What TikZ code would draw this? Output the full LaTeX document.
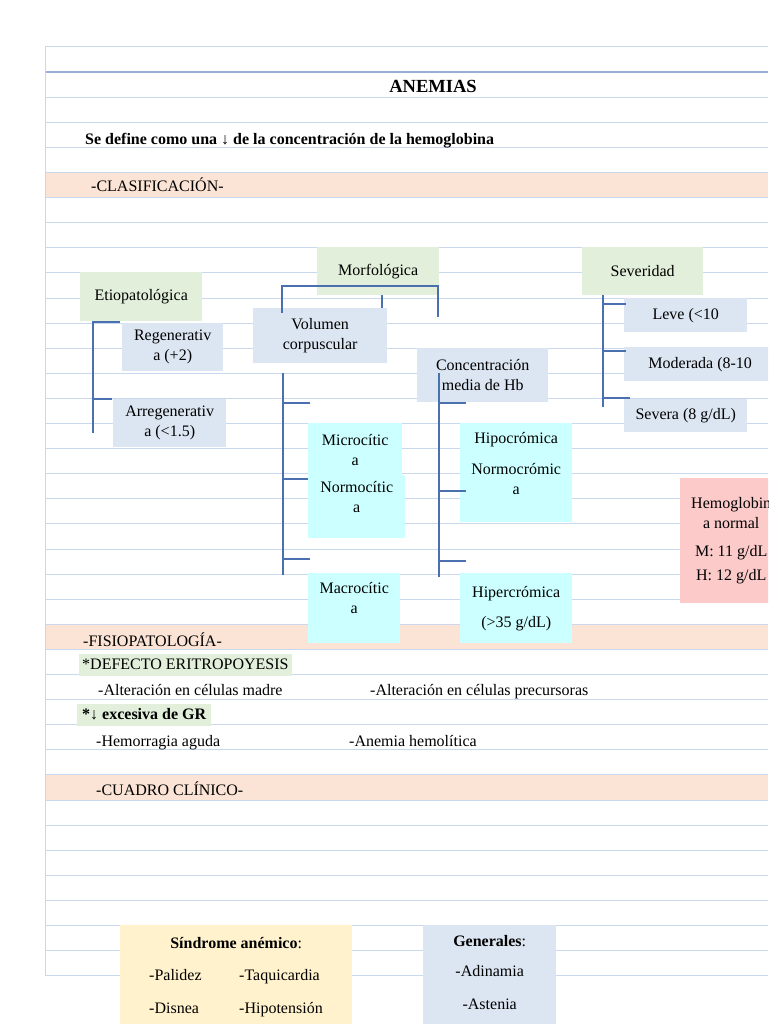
\documentclass[tikz,border=0pt]{standalone}
\usepackage{fontspec}
\setmainfont{Liberation Serif}
\usetikzlibrary{positioning}
\definecolor{rulec}{HTML}{C9D8EC}
\definecolor{rulebc}{HTML}{95B0D4}
\definecolor{bandc}{HTML}{FBE4D5}
\definecolor{grnc}{HTML}{E2EFDA}
\definecolor{bluc}{HTML}{DCE6F2}
\definecolor{cyac}{HTML}{CCFFFF}
\definecolor{hemc}{HTML}{FDCACA}
\definecolor{yelc}{HTML}{FFF2CC}
\definecolor{linkc}{HTML}{4A70B0}
\newcommand{\bodyfs}{\fontsize{16}{20}\selectfont}
\tikzset{
  box/.style 2 args={anchor=north west, inner sep=0pt, align=center, font=\bodyfs,
                     minimum width=#1, minimum height=#2},
  grn/.style={fill=grnc},
  blu/.style={fill=bluc},
  cya/.style={fill=cyac},
  txt/.style={anchor=base west, inner sep=0pt, font=\bodyfs},
  hl/.style={fill=grnc, anchor=west, inner xsep=3pt, inner ysep=0pt, minimum height=22, font=\bodyfs},
  rule/.style={draw=rulec, line width=1pt},
  con/.style={draw=linkc, line width=1.3pt},
}
\begin{document}
\begin{tikzpicture}[x=1pt, y=-1pt]
\useasboundingbox (0,0) rectangle (768,1024);
\clip (0,0) rectangle (768,1024);
\fill[white] (0,0) rectangle (768,1024);
% hoja rayada
\foreach \y in {173,624,775} \fill[bandc] (46,\y) rectangle (768,\y+24.5);
\foreach \k in {0,...,37} \draw[rule] (45,{47+25.1*\k}) -- (768,{47+25.1*\k});
\draw[draw=rulebc, line width=1.6pt] (45,72.1) -- (768,72.1);
\draw[rule] (45,47) -- (45,976);
% encabezado
\node[anchor=base, inner sep=0pt, font=\fontsize{18.5}{22}\selectfont\bfseries] (title) at (433,93) {ANEMIAS};
\node[txt, font=\bodyfs\bfseries] (defin) at (85,145) {Se define como una ↓ de la concentración de la hemoglobina};
\node[txt] (clas) at (91,192) {-CLASIFICACIÓN-};
% clasificacion
\node[box={122}{49}, grn] (etio) at (80,272) {Etiopatológica};
\node[box={101}{48}, blu] (regen) at (122,323) {Regenerativ\\a (+2)};
\node[box={113}{48}, blu] (arreg) at (113,399) {Arregenerativ\\a (<1.5)};
\node[box={122}{48}, grn] (morf) at (317,247) {Morfológica};
\node[box={134}{55}, blu] (vol) at (253,308) {Volumen\\corpuscular};
\node[box={131}{54}, blu] (conc) at (417,348) {Concentración\\media de Hb};
\node[box={94}{54}, cya] (micro) at (308,423) {Microcític\\a};
\node[box={97}{63}, cya] (normoc) at (308,475) {Normocític\\a\\~};
\node[box={92}{70}, cya] (macro) at (308,573) {Macrocític\\a\\~};
\node[box={112}{33}, cya] (hipo) at (460,423) {Hipocrómica};
\node[box={112}{66}, cya] (normocr) at (460,456) {Normocrómic\\a\\~};
\node[box={112}{70}, cya] (hiper) at (460,573) {Hipercrómica\\[10pt](>35 g/dL)};
\node[box={121}{48}, grn] (sev) at (582,247) {Severidad};
\node[box={123}{34}, blu] (leve) at (624,298) {Leve (<10};
\node[box={152}{34}, blu] (mod) at (624,347) {Moderada (8-10};
\node[box={123}{33}, blu] (sever) at (624,399) {Severa (8 g/dL)};
\node[box={102}{125}, fill=hemc] (hemo) at (680,478) {Hemoglobin\\a normal\\[8pt]M: 11 g/dL\\[4pt]H: 12 g/dL};
% ramas
\coordinate (eT) at (93,321); \coordinate (eB) at (93,433);
\draw[con] (eT) -- (eB);
\draw[con] (eT |- 0,322) -- ++(27,0); \draw[con] (eT |- arreg.north) -- ++(19,0);
\coordinate (mL) at (282,286); \coordinate (mR) at (438,286);
\draw[con] (mL |- 0,313) -- (mL) -- (mR) -- (mR |- 0,317);
\draw[con] (morf.south -| 382,0) -- (vol.north -| 382,0);
\coordinate (vT) at (283,373); \coordinate (vB) at (283,575);
\draw[con] (vT) -- (vB);
\foreach \y/\l in {403/27,479/25,559/27} \draw[con] (vT |- 0,\y) -- ++(\l,0);
\coordinate (cT) at (439,373); \coordinate (cB) at (439,577);
\draw[con] (cT) -- (cB);
\foreach \y in {403,491,561} \draw[con] (cT |- 0,\y) -- ++(27,0);
\coordinate (sT) at (603,295); \coordinate (sB) at (603,407);
\draw[con] (sT) -- (sB);
\foreach \y/\l in {304/23,351/23,398/27} \draw[con] (sT |- 0,\y) -- ++(\l,0);
% fisiopatologia
\node[txt] (fisio) at (83,646) {-FISIOPATOLOGÍA-};
\node[hl] (defec) at (79,664.5) {*DEFECTO ERITROPOYESIS};
\node[txt] (alt1) at (98,695) {-Alteración en células madre};
\node[txt] (alt2) at (370,695) {-Alteración en células precursoras};
\node[hl, inner xsep=5pt, font=\bodyfs\bfseries] (exces) at (77,714.5) {*↓ excesiva de GR};
\node[txt] (hemor) at (96,746) {-Hemorragia aguda};
\node[txt] (hemol) at (349,746) {-Anemia hemolítica};
% cuadro clinico
\node[txt] (cuadro) at (96,795) {-CUADRO CLÍNICO-};
\node[box={232}{120}, fill=yelc] (sind) at (120,925)
  {\textbf{Síndrome anémico}:\\[12pt]\makebox[90pt][l]{-Palidez}\makebox[84pt][l]{-Taquicardia}\\[13pt]\makebox[90pt][l]{-Disnea}\makebox[84pt][l]{-Hipotensión}\\~};
\node[box={133}{114}, blu] (gen) at (423,925) {\textbf{Generales}:\\[10pt]-Adinamia\\[13pt]-Astenia\\~};
\end{tikzpicture}
\end{document}
